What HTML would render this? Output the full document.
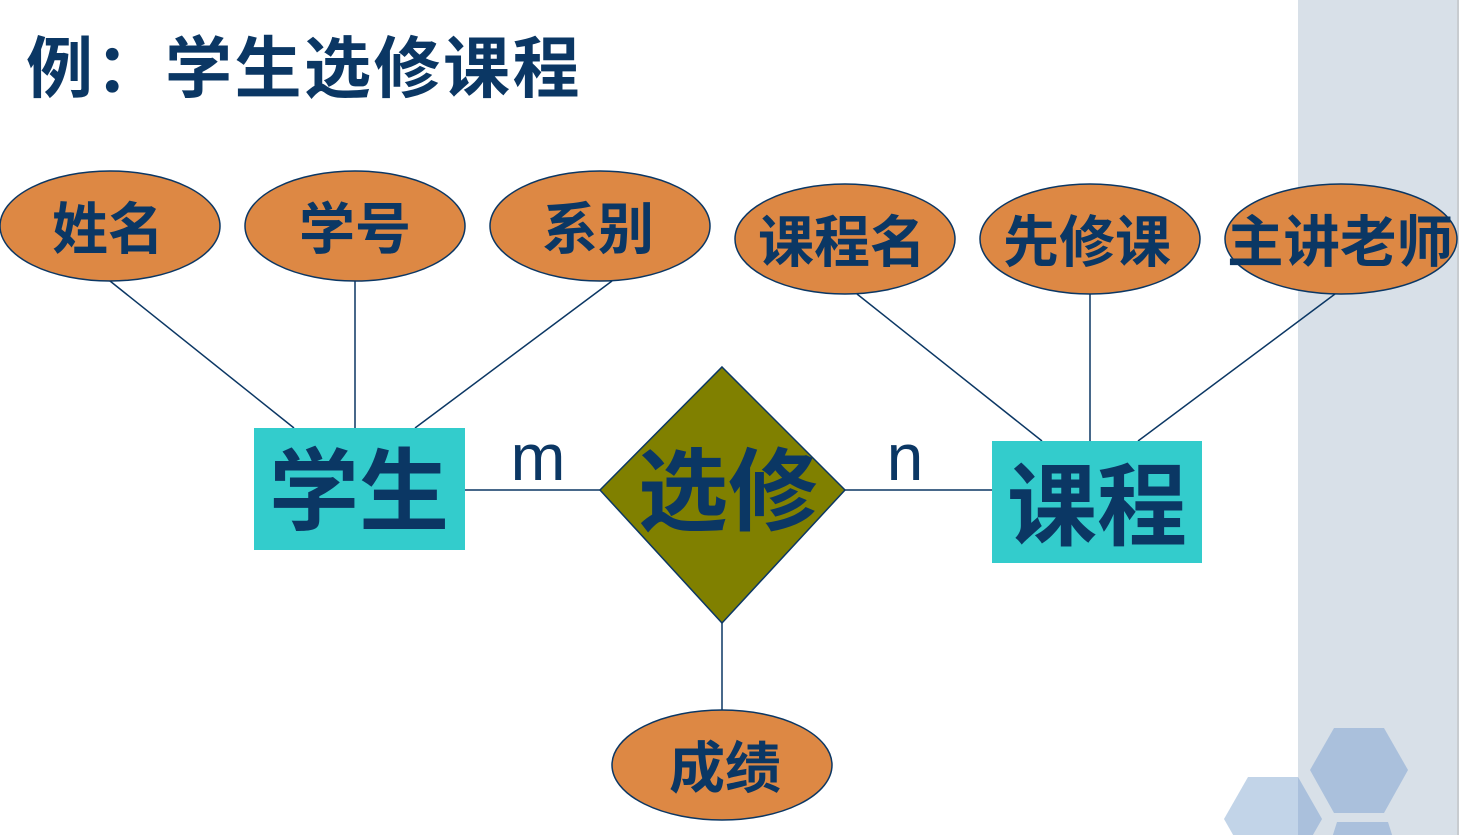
<!DOCTYPE html>
<html><head><meta charset="utf-8"><style>
body{margin:0;width:1462px;height:835px;overflow:hidden;background:#fff}
svg{display:block}
text{font-family:"Liberation Sans","Noto Sans CJK SC",sans-serif;font-weight:bold;fill:#0b3764}
text.n{font-weight:normal}
</style></head><body>
<svg width="1462" height="835" viewBox="0 0 1462 835">
<rect x="1298" y="0" width="159" height="835" fill="#d8e0e8"/>
<rect x="1457" y="0" width="2" height="835" fill="#c8ccd0"/>
<polygon points="1224,819 1248,777 1298,777 1322,819 1298,861 1248,861" fill="#c2d4e8"/>
<polygon points="1298,777 1322,819 1298,861" fill="#aac0dc"/>
<polygon points="1310,770 1334,728 1384,728 1408,770 1384,813 1334,813" fill="#aac0dc"/>
<polygon points="1325,860 1337,822 1388,822 1400,860" fill="#aac0dc"/>
<text x="26" y="92" font-size="67" letter-spacing="2.5">例：学生选修课程</text>
<g stroke="#0b3764" stroke-width="1.5" fill="none">
<line x1="110" y1="281" x2="294" y2="428"/>
<line x1="355" y1="281" x2="355" y2="428"/>
<line x1="612" y1="281" x2="415" y2="428"/>
<line x1="857" y1="294" x2="1042" y2="441"/>
<line x1="1090" y1="294" x2="1090" y2="441"/>
<line x1="1335" y1="294" x2="1138" y2="441"/>
<line x1="465" y1="490" x2="600" y2="490"/>
<line x1="845" y1="490" x2="992" y2="490"/>
<line x1="722" y1="623" x2="722" y2="710"/>
</g>
<g fill="#dd8844" stroke="#0b3764" stroke-width="1.5">
<ellipse cx="110" cy="226" rx="110" ry="55"/>
<ellipse cx="355" cy="226" rx="110" ry="55"/>
<ellipse cx="600" cy="226" rx="110" ry="55"/>
<ellipse cx="845" cy="239" rx="110" ry="55"/>
<ellipse cx="1090" cy="239" rx="110" ry="55"/>
<ellipse cx="1341" cy="239" rx="116" ry="55"/>
<ellipse cx="722" cy="765" rx="110" ry="55"/>
</g>
<polygon points="722,367 845,490 722,623 600,490" fill="#808000" stroke="#0b3764" stroke-width="1.5"/>
<rect x="254" y="428" width="211" height="122" fill="#33cccc"/>
<rect x="992" y="441" width="210" height="122" fill="#33cccc"/>
<g font-size="56" text-anchor="middle">
<text x="108" y="249">姓名</text>
<text x="355" y="249">学号</text>
<text x="598" y="249">系别</text>
<text x="842" y="262">课程名</text>
<text x="1087" y="262">先修课</text>
<text x="1340" y="262" textLength="226" lengthAdjust="spacingAndGlyphs">主讲老师</text>
<text x="725" y="788">成绩</text>
</g>
<g font-size="90" text-anchor="middle">
<text x="359" y="523">学生</text>
<text x="728" y="523">选修</text>
<text x="1097" y="538">课程</text>
</g>
<text class="n" x="538" y="480" font-size="66" text-anchor="middle">m</text>
<text class="n" x="905" y="480" font-size="66" text-anchor="middle">n</text>
</svg>
</body></html>
